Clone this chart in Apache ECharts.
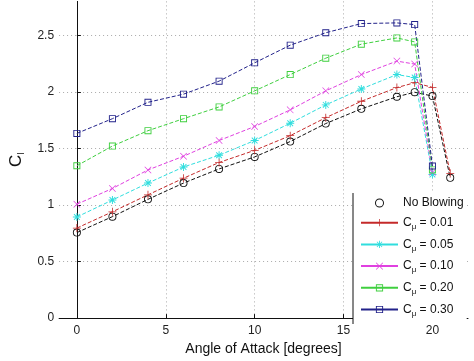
<!DOCTYPE html>
<html>
<head>
<meta charset="utf-8">
<script src="https://cdn.jsdelivr.net/npm/echarts@6/dist/echarts.min.js"></script>
<style>
html,body{margin:0;padding:0;background:#fff;}
#chart{width:474px;height:361px;}
</style>
</head>
<body>
<div id="chart"></div>
<script>
// ---- data ----
const aoaLong = [0, 2, 4, 6, 8, 10, 12, 14, 16, 18, 19, 20, 21];
const aoaShort = [0, 2, 4, 6, 8, 10, 12, 14, 16, 18, 19, 20];
const noBlowing = [0.756, 0.897, 1.05, 1.194, 1.319, 1.425, 1.561, 1.72, 1.85, 1.957, 1.997, 1.963, 1.24];
const cmu001 = [0.796, 0.94, 1.09, 1.237, 1.376, 1.483, 1.613, 1.772, 1.917, 2.038, 2.081, 2.04, 1.28];
const cmu005 = [0.894, 1.044, 1.194, 1.336, 1.44, 1.57, 1.723, 1.885, 2.026, 2.153, 2.127, 1.27];
const cmu010 = [1.007, 1.146, 1.31, 1.431, 1.57, 1.694, 1.841, 2.009, 2.153, 2.272, 2.246, 1.29];
const cmu020 = [1.347, 1.521, 1.657, 1.763, 1.867, 2.009, 2.153, 2.298, 2.422, 2.477, 2.442, 1.31];
const cmu030 = [1.633, 1.763, 1.908, 1.98, 2.095, 2.257, 2.413, 2.523, 2.604, 2.61, 2.595, 1.345];
const seriesNames = ['No Blowing', 'C\u03bc = 0.01', 'C\u03bc = 0.05', 'C\u03bc = 0.10', 'C\u03bc = 0.20', 'C\u03bc = 0.30'];
const xTicks = [0, 5, 10, 15, 20];
const yTicks = [0, 0.5, 1, 1.5, 2, 2.5];

const pair = (xs, ys) => xs.map((x, i) => [x, ys[i]]);

const PLUS = 'path://M4.5,0H5.5V10H4.5ZM0,4.5H10V5.5H0Z';
const CROSS = 'path://M0,0.7L0.7,0L10,9.3L9.3,10ZM9.3,0L10,0.7L0.7,10L0,9.3Z';
const STAR = 'path://M4.4,0H5.6V10H4.4ZM0,4.4H10V5.6H0ZM1,1.8L1.8,1L9,8.2L8.2,9ZM8.2,1L9,1.8L1.8,9L1,8.2Z';
const RING = 'path://M0,5A5,5 0 1,1 10,5A5,5 0 1,1 0,5ZM1.1,5A3.9,3.9 0 1,0 8.9,5A3.9,3.9 0 1,0 1.1,5Z';
const SQUARE = 'path://M0,0H10V10H0ZM1.3,1.3V8.7H8.7V1.3Z';

const font = 'Liberation Sans, Arial, sans-serif';

function mk(name, xs, ys, color, symbol, size) {
  return {
    name: name, type: 'line', data: pair(xs, ys),
    symbol: symbol, symbolSize: size,
    lineStyle: { color: color, width: 1, type: [4, 2] },
    itemStyle: { color: color, borderWidth: 0 },
    emphasis: { disabled: true },
    animation: false
  };
}

const chart = echarts.init(document.getElementById('chart'), null, { renderer: 'canvas' });
chart.setOption({
  animation: false,
  backgroundColor: '#fff',
  grid: { left: 58.5, right: 6, top: 1.4, bottom: 36.5 },
  xAxis: {
    type: 'value', min: -1, max: 22,
    name: 'Angle of Attack [degrees]', nameLocation: 'middle', nameGap: 20,
    nameTextStyle: { fontFamily: font, fontSize: 14, color: '#111' },
    axisLine: { show: true, lineStyle: { color: '#111', width: 1 } },
    axisTick: { show: true, inside: true, length: 4, customValues: xTicks, lineStyle: { color: '#111' } },
    axisLabel: { customValues: xTicks, fontFamily: font, fontSize: 12, color: '#222', margin: 7 },
    splitLine: { show: true, lineStyle: { color: '#aaa', type: [1, 3], width: 1 } }
  },
  yAxis: {
    type: 'value', min: 0, max: 2.8,
    name: '{c|C}{s|l}', nameLocation: 'middle', nameGap: 32, nameRotate: 90,
    nameTextStyle: {
      rich: {
        c: { fontFamily: font, fontSize: 17, color: '#111', lineHeight: 20 },
        s: { fontFamily: font, fontSize: 9, color: '#111', lineHeight: 10, verticalAlign: 'bottom' }
      }
    },
    axisLine: { show: true, lineStyle: { color: '#111', width: 1 } },
    axisTick: { show: true, inside: true, length: 4, customValues: yTicks, lineStyle: { color: '#111' } },
    axisLabel: { customValues: yTicks, fontFamily: font, fontSize: 12, color: '#222', margin: 5 },
    splitLine: { show: true, lineStyle: { color: '#aaa', type: [1, 3], width: 1 } }
  },
  legend: {
    orient: 'vertical', left: 353, top: 193,
    itemWidth: 37, itemHeight: 9, itemGap: 7.7,
    padding: [4, 3, 4, 7],
    backgroundColor: '#fff',
    selectedMode: false,
    lineStyle: { type: 'solid' },
    data: [
      { name: seriesNames[0], icon: RING, itemStyle: { color: '#111' } },
      seriesNames[1], seriesNames[2], seriesNames[3], seriesNames[4], seriesNames[5]
    ],
    formatter: function (name) {
      if (name === seriesNames[0]) return '{m|No Blowing}';
      return '{m|C}{s|\u03bc}{m| ' + name.split(' ').slice(1).join(' ') + '}';
    },
    textStyle: {
      rich: {
        m: { fontFamily: font, fontSize: 12, color: '#111', lineHeight: 16 },
        s: { fontFamily: font, fontSize: 8, color: '#111', lineHeight: 8, verticalAlign: 'bottom' }
      }
    }
  },
  graphic: [{
    type: 'line', shape: { x1: 353, y1: 193, x2: 353, y2: 324 },
    style: { stroke: '#111', lineWidth: 1 }, z: 100
  }],
  series: [
    mk(seriesNames[0], aoaLong, noBlowing, '#111111', RING, 8),
    mk(seriesNames[1], aoaLong, cmu001, '#c42a2a', PLUS, 8),
    mk(seriesNames[2], aoaShort, cmu005, '#30dede', STAR, 8),
    mk(seriesNames[3], aoaShort, cmu010, '#e040e0', CROSS, 7),
    mk(seriesNames[4], aoaShort, cmu020, '#3fcf3f', SQUARE, 7),
    mk(seriesNames[5], aoaShort, cmu030, '#22228a', SQUARE, 7)
  ]
});
</script>
</body>
</html>
